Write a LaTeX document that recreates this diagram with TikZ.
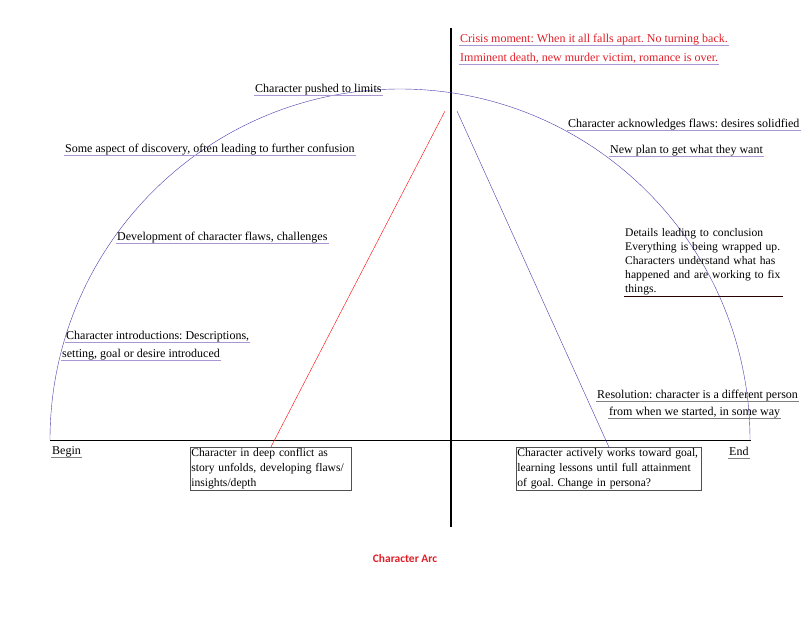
\documentclass[tikz,border=0pt]{standalone}
\usepackage{fontspec}
\setmainfont{Liberation Serif}
\newfontfamily\titlefont{Carlito}
\usetikzlibrary{positioning}
\frenchspacing

\definecolor{arcblue}{RGB}{70,60,170}
\definecolor{crisisred}{RGB}{225,30,40}
\definecolor{lavender}{RGB}{170,150,210}
\definecolor{boxgray}{RGB}{80,80,80}

\begin{document}
\begin{tikzpicture}[
    x=1pt, y=1pt,
    note/.style={anchor=base west, inner sep=1pt, text height=9pt, text depth=2pt, font=\fontsize{12}{14}\selectfont},
    crisis/.style={note, text=crisisred},
    stagebox/.style={rectangle, draw=boxgray, thin, align=left, inner sep=1.2pt, anchor=north west, font=\fontsize{11.6}{15}\selectfont},
    underline/.style={draw=lavender, thin},
    arcline/.style={draw=arcblue, thin}
]
\useasboundingbox (0,0) rectangle (810,-630);

% Axes
\coordinate (start) at (50,-440);
\coordinate (finish) at (751,-440);
\coordinate (spinetop) at (451,-28);
\coordinate (spinebottom) at (451,-527);
\draw[thin] (start) -- (finish);
\draw[line width=2.5pt] (spinetop) -- (spinebottom);

% Arc
\draw[arcline] (start) arc[start angle=180, end angle=0, x radius=350pt, y radius=351pt];

% Crisis
\node[crisis] (crisis) at (459,-42) {Crisis moment: When it all falls apart. No turning back.};
\node[crisis, below=6pt of crisis.south west, anchor=north west] (imminent) {Imminent death, new murder victim, romance is over.};

% Rising side
\node[note] (pushed) at (254,-92) {Character pushed to limits};
\node[note] (discovery) at (64,-152) {Some aspect of discovery, often leading to further confusion};
\node[note] (development) at (116,-240) {Development of character flaws, challenges};
\node[note] (intro) at (65,-339) {Character introductions: Descriptions,};
\node[note, below=5pt of intro.south west, anchor=north west, xshift=-4pt] (setting) {setting, goal or desire introduced};

% Falling side
\node[note] (acknowledges) at (567,-127) {Character acknowledges flaws: desires solidfied};
\node[note] (newplan) at (609,-153) {New plan to get what they want};
\node[anchor=north west, inner sep=1pt, text width=157pt, align=left, font=\fontsize{11.6}{14}\selectfont] (details) at (624,-227)
    {Details leading to conclusion\\Everything is being wrapped up.\\Characters understand what has\\happened and are working to fix\\things.};
\node[note] (resolution) at (596,-398) {Resolution: character is a different person};
\node[note, below=4pt of resolution.south west, anchor=north west, xshift=12pt] (fromwhen) {from when we started, in some way};

% Ends
\node[note] (begin) at (51,-454) {Begin};
\node[note] (end) at (728,-455) {End};

% Boxes
\node[stagebox, text width=159pt] (conflict) at (190,-447)
    {Character in deep conflict as\\story unfolds, developing flaws/\\insights/depth};
\node[stagebox, text width=183pt] (persona) at (516,-447)
    {Character actively works toward goal,\\learning lessons until full attainment\\of goal. Change in persona?};

% Lines to the peak
\coordinate (redtip) at (445,-111);
\coordinate (bluetip) at (457,-111);
\draw[red] (conflict.north) -- (redtip);
\draw[arcline] (persona.north) -- (bluetip);

% Underlines
\foreach \n in {crisis,imminent,pushed,discovery,development,intro,setting,acknowledges,newplan}
    \draw[underline] (\n.south west) -- (\n.south east);
\foreach \n in {resolution,fromwhen,begin,end}
    \draw[draw=gray] (\n.south west) -- (\n.south east);
\draw[draw=black!85!red] (details.south west) -- (details.south east);

% Title
\node[font=\titlefont\fontsize{11.5}{13}\selectfont\bfseries, text=crisisred] (title) at (405,-558) {Character Arc};
\end{tikzpicture}
\end{document}
